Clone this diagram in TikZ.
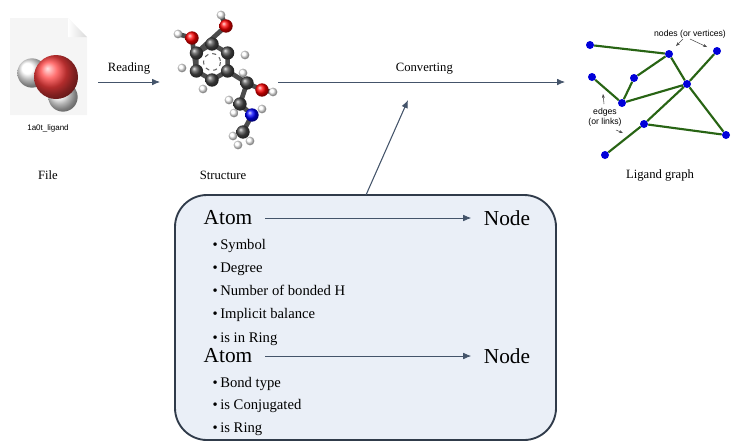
\documentclass[tikz,border=0pt]{standalone}
\usepackage{fontspec}
\setmainfont{Liberation Serif}
\newfontfamily\sansf{Liberation Sans}
\usetikzlibrary{arrows.meta}
\definecolor{arr}{RGB}{68,84,106}
\definecolor{boxfill}{RGB}{234,239,247}
\definecolor{edgeg}{RGB}{40,100,20}
\begin{document}
\begin{tikzpicture}[x=0.75pt,y=-0.75pt,
  arrowc/.style={draw=arr,-{Latex[length=6pt,width=5pt]},line width=0.6pt},
  gn/.style={circle,fill=blue!85!black,inner sep=0pt,minimum size=6pt},
  ge/.style={draw=edgeg,line width=1.6pt},
  lbl/.style={font=\fontsize{9.5}{11}\selectfont},
  bul/.style={anchor=base west,font=\fontsize{11}{13}\selectfont},
  big/.style={font=\fontsize{16}{18}\selectfont},
  atomC/.style={circle,inner sep=0pt,minimum size=#1,ball color=black!70},
  atomH/.style={circle,inner sep=0pt,minimum size=6.5pt,ball color=white},
  atomO/.style={circle,inner sep=0pt,minimum size=10pt,ball color=red},
  atomN/.style={circle,inner sep=0pt,minimum size=10pt,ball color=blue}]
\useasboundingbox (0,0) rectangle (745,444);
% file icon
\fill[black!4] (10,18) -- (68,18) -- (87,37) -- (87,115) -- (10,115) -- cycle;
\shade[left color=white,right color=black!15] (68,18) -- (87,37) -- (68,37) -- cycle;
\node[circle,ball color=white,minimum size=22pt,inner sep=0pt] (h1) at (32,73) {};
\node[circle,ball color=white,minimum size=22pt,inner sep=0pt] (h2) at (63,97) {};
\node[circle,ball color=red!75!white,minimum size=33pt,inner sep=0pt] (ow) at (56,77) {};
\node[font=\sansf\fontsize{6}{7}\selectfont] (fname) at (48,128) {1a0t\_ligand};
\node[lbl] (file) at (48,175) {File};
% molecule
\foreach \i/\a in {1/90,2/150,3/210,4/270,5/330,6/30}{
  \coordinate (r\i) at ({212+18*cos(\a)},{62-18*sin(\a)});}
\draw[black!70,line width=3.5pt] (r1)--(r2)--(r3)--(r4)--(r5)--(r6)--cycle;
\draw[black!60,dashed,line width=0.8pt] (212,62) circle (8.5);
\coordinate (o1) at (192,38); \coordinate (ho1) at (178,34);
\coordinate (o2) at (226,26); \coordinate (ho2) at (221,15);
\coordinate (c7) at (247,83); \coordinate (o3) at (262,90); \coordinate (ho3) at (273,92);
\coordinate (c8) at (240,104); \coordinate (n1) at (252,115); \coordinate (c9) at (243,132);
\draw[black!70,line width=3.5pt] (r3)--(o1)--(ho1) (r2)--(o2)--(ho2) (r5)--(c7)--(o3)--(ho3) (c7)--(c8)--(n1)--(c9);
\foreach \p in {(r1),(r2),(r3),(r4),(r5),(r6),(c7),(c8),(c9)} \node[atomC=10pt] at \p {};
\foreach \p in {(ho1),(ho2),(ho3),(245,55),(182,68),(203,89),(243,73),(229,100),(234,113),(262,109),(233,136),(250,141),(238,145)} \node[atomH] at \p {};
\foreach \p in {(o1),(o2),(o3)} \node[atomO] at \p {};
\node[atomN] at (n1) {};
\node[lbl] (struct) at (223,175) {Structure};
% arrows
\coordinate (ra) at (98,82); \coordinate (rb) at (160,82);
\draw[arrowc] (ra) -- (rb) node[midway,above=2pt,lbl,text=black] {Reading};
\coordinate (ca) at (278,82); \coordinate (cb) at (565,82);
\draw[arrowc] (ca) -- (cb) node[pos=0.51,above=2pt,lbl,text=black] {Converting};
% graph
\node[gn] (g1) at (590,45) {}; \node[gn] (g2) at (669,54) {};
\node[gn] (g3) at (717,51) {}; \node[gn] (g4) at (592,77) {};
\node[gn] (g5) at (634,78) {}; \node[gn] (g6) at (687,84) {};
\node[gn] (g7) at (622,103) {}; \node[gn] (g8) at (644,124) {};
\node[gn] (g9) at (726,135) {}; \node[gn] (g10) at (605,155) {};
\draw[ge] (g1)--(g2) (g2)--(g5) (g5)--(g7) (g4)--(g7) (g7)--(g6) (g2)--(g6) (g6)--(g9) (g3)--(g6) (g6)--(g8) (g8)--(g10) (g8)--(g9);
\node[font=\sansf\fontsize{6.5}{7}\selectfont] (nl) at (690,34) {nodes (or vertices)};
\draw[-{Stealth[length=3pt]},black!70,line width=0.4pt] (683,39) -- (676,46);
\draw[-{Stealth[length=3pt]},black!70,line width=0.4pt] (690,39) -- (707,47);
\node[font=\sansf\fontsize{6.5}{7.5}\selectfont,align=center] (el) at (605,117) {edges\\(or links)};
\draw[-{Stealth[length=3pt]},black!70,line width=0.4pt] (604,104) -- (603,94);
\draw[-{Stealth[length=3pt]},black!70,line width=0.4pt] (616,130) -- (623,133);
\node[lbl] (lg) at (660,175) {Ligand graph};
% box
\draw[draw=arr!70!black,fill=boxfill,line width=1.4pt,rounded corners=24pt] (175,195) rectangle (556,440);
\coordinate (bt) at (366,195); \coordinate (bu) at (408,100);
\draw[arrowc,line width=0.8pt] (bt) -- (bu);
\node[big] (a1) at (228,218) {Atom};
\node[big] (nd1) at (507,218) {Node};
\draw[arrowc] (a1.east)++(8,0) -- ([xshift=-6pt]nd1.west);
\foreach \t/\y in {Symbol/249,Degree/272,Number of bonded H/295,Implicit balance/318,is in Ring/342}
  \node[bul] at (208,\y) {\textbullet\,\t};
\node[big] (a2) at (228,356) {Atom};
\node[big] (nd2) at (507,356) {Node};
\draw[arrowc] (a2.east)++(8,0) -- ([xshift=-6pt]nd2.west);
\foreach \t/\y in {Bond type/387,is Conjugated/409,is Ring/432}
  \node[bul] at (208,\y) {\textbullet\,\t};
\end{tikzpicture}
\end{document}
